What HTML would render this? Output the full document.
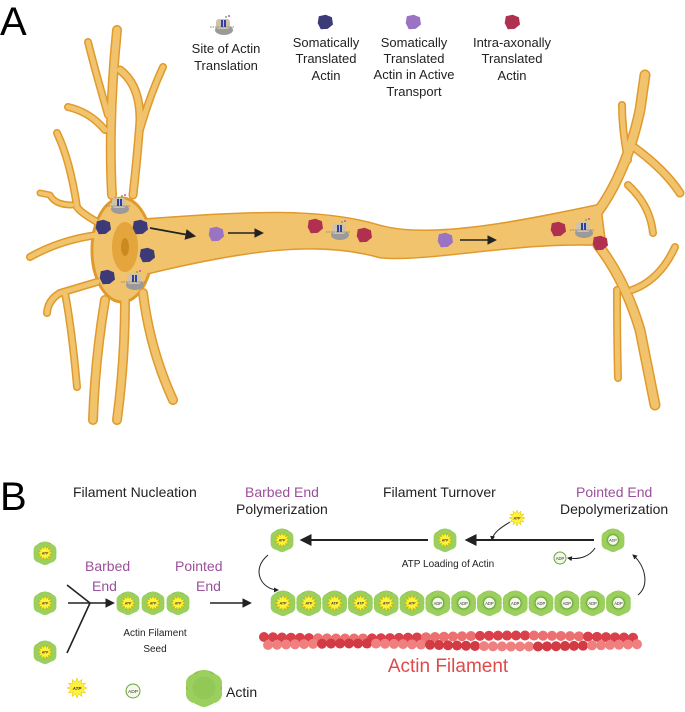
<!DOCTYPE html>
<html><head><meta charset="utf-8">
<style>
html,body{margin:0;padding:0;background:#fff;}
svg{display:block;}
text{font-family:"Liberation Sans",sans-serif;}
</style></head>
<body>
<svg id="s" width="685" height="712" viewBox="0 0 685 712" xmlns="http://www.w3.org/2000/svg">
<defs>
<marker id="ah" viewBox="0 0 10 10" refX="8" refY="5" markerWidth="6" markerHeight="6" orient="auto"><path d="M0,0 L10,5 L0,10 z" fill="#222"/></marker>
<marker id="ah2" viewBox="0 0 10 10" refX="8" refY="5" markerWidth="5" markerHeight="5" orient="auto"><path d="M0,0 L10,5 L0,10 z" fill="#222"/></marker>
</defs>
<text x="0" y="35" font-size="40">A</text>
<text x="0" y="510" font-size="40">B</text>

<g font-size="13" fill="#222" text-anchor="middle">
<text x="226" y="53">Site of Actin</text><text x="226" y="70">Translation</text>
<text x="326" y="47">Somatically</text><text x="326" y="63">Translated</text><text x="326" y="80">Actin</text>
<text x="414" y="47">Somatically</text><text x="414" y="63">Translated</text><text x="414" y="79">Actin in Active</text><text x="414" y="96">Transport</text>
<text x="512" y="47">Intra-axonally</text><text x="512" y="63">Translated</text><text x="512" y="80">Actin</text>
</g>

<g id="neuron" stroke-linecap="round" stroke-linejoin="round" fill="none"></g>
<g id="parts"></g>

<g font-size="14" fill="#222">
<text x="73" y="497">Filament Nucleation</text>
<text x="383" y="497">Filament Turnover</text>
<text x="236" y="514">Polymerization</text>
<text x="560" y="514">Depolymerization</text>
</g>
<g font-size="14" fill="#9b4f9b">
<text x="245" y="497">Barbed End</text>
<text x="576" y="497">Pointed End</text>
<text x="85" y="571">Barbed</text><text x="92" y="591">End</text>
<text x="175" y="571">Pointed</text><text x="196" y="591">End</text>
</g>
<g font-size="10" fill="#222" text-anchor="middle">
<text x="155" y="636">Actin Filament</text><text x="155" y="652">Seed</text>
<text x="448" y="567">ATP Loading of Actin</text>
</g>
<text x="448" y="672" font-size="19" fill="#e04a4a" text-anchor="middle">Actin Filament</text>
<text x="226" y="697" font-size="14" fill="#222">Actin</text>

<g stroke="#222" stroke-width="1.6" fill="none">
<line x1="67" y1="585" x2="90" y2="603"/>
<line x1="67" y1="653" x2="90" y2="603"/>
<line x1="68" y1="603" x2="113" y2="603" marker-end="url(#ah)"/>
<line x1="210" y1="603" x2="250" y2="603" marker-end="url(#ah)"/>
<line x1="428" y1="540" x2="302" y2="540" stroke-width="2" marker-end="url(#ah)"/>
<line x1="594" y1="540" x2="467" y2="540" stroke-width="2" marker-end="url(#ah)"/>
<path d="M268,555 C250,570 262,590 278,590" stroke-width="1" marker-end="url(#ah2)"/>
<path d="M638,595 C650,585 645,565 633,555" stroke-width="1" marker-end="url(#ah2)"/>
<path d="M510,522 C500,528 493,533 492,540" stroke-width="1" marker-end="url(#ah2)"/>
<path d="M595,548 C590,556 580,560 568,558" stroke-width="1" marker-end="url(#ah2)"/>
</g>
<g id="bpart"></g>
</svg>
<script>
var NS="http://www.w3.org/2000/svg";
function el(p,t,a){var e=document.createElementNS(NS,t);for(var k in a)e.setAttribute(k,a[k]);p.appendChild(e);return e;}
var N=document.getElementById("neuron");
var OUT="#e09a2c",FILL="#f1c36d";
var den=[
["M112,195 Q108,120 117,30",7],
["M108,115 Q95,70 88,42",5],
["M105,130 Q90,112 68,107",5],
["M133,195 Q138,150 140,120 Q140,85 120,70",6],
["M140,130 Q150,95 163,67",5],
["M97,222 Q80,212 77,207 Q70,160 57,133",5],
["M72,205 Q55,205 50,195 L40,193",4],
["M97,235 Q60,240 30,257",5],
["M97,282 Q70,290 60,293 Q48,300 47,313",5],
["M65,293 Q72,330 77,387",5],
["M105,300 Q95,360 93,420",7],
["M125,300 Q125,360 117,420",7],
["M143,293 Q150,350 173,400",7],
["M590,222 Q625,180 640,110 L645,75",8],
["M628,160 Q622,130 622,105",5],
["M635,148 Q665,170 680,193",6],
["M628,185 Q650,205 653,233",5],
["M598,245 Q625,280 640,330 L655,405",8],
["M617,290 Q617,340 618,378",5],
["M632,290 Q660,280 675,247",5]
];
den.forEach(function(d){el(N,"path",{d:d[0],stroke:OUT,"stroke-width":d[1]+3});});
var axon="M140,220 C250,212 320,208 380,226 C430,240 520,222 600,205 L605,245 C520,240 430,262 380,257 C320,240 250,248 140,275 Z";
el(N,"path",{d:axon,fill:FILL,stroke:OUT,"stroke-width":3});
el(N,"ellipse",{cx:122,cy:250,rx:30,ry:52,fill:FILL,stroke:OUT,"stroke-width":3});
den.forEach(function(d){el(N,"path",{d:d[0],stroke:FILL,"stroke-width":d[1]});});
el(N,"path",{d:axon,fill:FILL,stroke:"none"});
el(N,"ellipse",{cx:122,cy:250,rx:28.5,ry:50.5,fill:FILL});
el(N,"ellipse",{cx:125,cy:247,rx:13,ry:25,fill:"#e3a53c"});
el(N,"ellipse",{cx:125,cy:247,rx:4,ry:9,fill:"#cc8a1e"});
var P=document.getElementById("parts");
function hex(x,y,c,r){r=r||8;var pts=[];for(var i=0;i<7;i++){var a=i/7*Math.PI*2+0.3;var rr=r*(i%2?0.92:1.05);pts.push((x+rr*Math.cos(a)).toFixed(1)+","+(y+rr*Math.sin(a)).toFixed(1));}el(P,"polygon",{points:pts.join(" "),fill:c});}
function ribo(x,y){el(P,"ellipse",{cx:x+2,cy:y+5,rx:9,ry:5,fill:"#9a9a9a"});el(P,"rect",{x:x-6,y:y-6,width:14,height:10,rx:3,fill:"#cfc2a8"});el(P,"line",{x1:x-12,y1:y+2,x2:x+12,y2:y+2,stroke:"#888","stroke-width":1,"stroke-dasharray":"1.5 1"});el(P,"rect",{x:x-1,y:y-5,width:2,height:7,fill:"#3040a0"});el(P,"rect",{x:x+2,y:y-5,width:2,height:7,fill:"#3040a0"});el(P,"circle",{cx:x+7,cy:y-9,r:1,fill:"#e040c0"});el(P,"circle",{cx:x+4,cy:y-8,r:1,fill:"#60c060"});}
ribo(222,25);
hex(325,22,"#3d3a78");hex(413,22,"#9a74c2");hex(512,22,"#b03050");
[[103,227],[140,227],[147,255],[107,277]].forEach(function(p){hex(p[0],p[1],"#3d3a78");});
ribo(118,204);ribo(133,280);ribo(338,230);ribo(582,228);
hex(216,234,"#9a74c2");hex(445,240,"#9a74c2");
hex(315,226,"#b03050");hex(364,235,"#b03050");hex(558,229,"#b03050");hex(600,243,"#b03050");
el(P,"line",{x1:150,y1:228,x2:194,y2:236,stroke:"#222","stroke-width":1.8,"marker-end":"url(#ah)"});
el(P,"line",{x1:228,y1:233,x2:262,y2:233,stroke:"#222","stroke-width":1.6,"marker-end":"url(#ah)"});
el(P,"line",{x1:460,y1:240,x2:495,y2:240,stroke:"#222","stroke-width":1.6,"marker-end":"url(#ah)"});
var B=document.getElementById("bpart");
for(var i=0;i<42;i++){var x=264+i*9;var ph=Math.sin(i/6);
el(B,"circle",{cx:x,cy:637+ph*1.5,r:5,fill:(i%12<6)?"#d9404a":"#ec7070"});}
for(var i=0;i<42;i++){var x=268+i*9;var ph=Math.sin(i/6);
el(B,"circle",{cx:x,cy:645-ph*1.5,r:5,fill:(i%12<6)?"#f08080":"#d23a44"});}
function star(g,x,y,r){var pts=[];for(var i=0;i<24;i++){var a=i/24*Math.PI*2;var rr=i%2?r*0.6:r;pts.push((x+rr*Math.cos(a)).toFixed(1)+","+(y+rr*Math.sin(a)).toFixed(1));}el(g,"polygon",{points:pts.join(" "),fill:"#fff23a",stroke:"#e6c000","stroke-width":0.5});var t=el(g,"text",{x:x,y:y+r*0.2,"font-size":r*0.45,"text-anchor":"middle","font-style":"italic","font-weight":"bold",fill:"#333"});t.textContent="ATP";}
function adp(g,x,y,r){el(g,"circle",{cx:x,cy:y,r:r,fill:"#f3f8e8",stroke:"#6aa53a","stroke-width":1});var t=el(g,"text",{x:x,y:y+r*0.3,"font-size":r*0.7,"text-anchor":"middle",fill:"#333"});t.textContent="ADP";}
function actin(x,y,r,type){
 var a=[[0,-0.45],[0.45,-0.25],[0.45,0.3],[0,0.5],[-0.45,0.3],[-0.45,-0.25]];
 el(B,"circle",{cx:x,cy:y,r:r*0.95,fill:"#86c04a"});
 a.forEach(function(p){el(B,"circle",{cx:x+p[0]*r,cy:y+p[1]*r,r:r*0.5,fill:"#9bcf5e"});});
 el(B,"circle",{cx:x,cy:y,r:r*0.6,fill:"#92c855"});
 if(type=="ATP")star(B,x,y,r*0.62);else if(type=="ADP")adp(B,x,y,r*0.45);
}
actin(45,553,12,"ATP");actin(45,603,12,"ATP");actin(45,652,12,"ATP");
actin(128,603,12,"ATP");actin(153,603,12,"ATP");actin(178,603,12,"ATP");
actin(282,540,12,"ATP");actin(445,540,12,"ATP");actin(613,540,12,"ADP");
for(var i=0;i<14;i++)actin(283+i*25.8,603,13,i<6?"ATP":"ADP");
star(B,517,518,8);adp(B,560,558,6);
star(B,77,688,10);adp(B,133,691,7);actin(204,688,19,"");
</script>
</body></html>
